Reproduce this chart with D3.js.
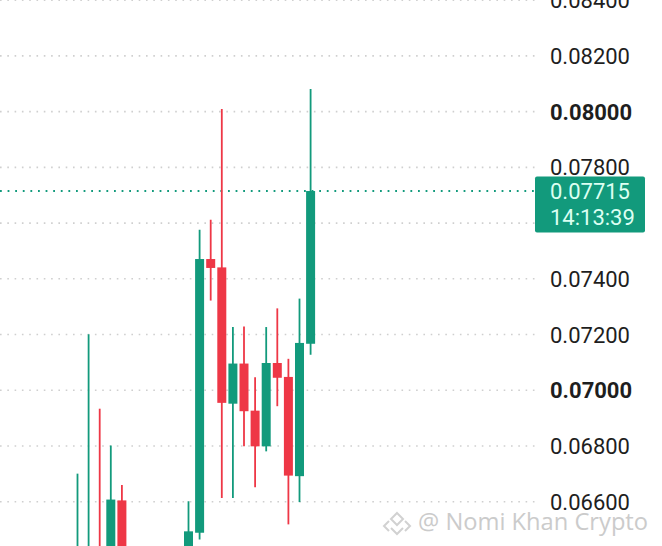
<!DOCTYPE html>
<html>
<head>
<meta charset="utf-8">
<script src="https://cdn.jsdelivr.net/npm/d3@7"></script>
<style>
  html, body { margin: 0; padding: 0; background: #fff; overflow: hidden; }
  svg { display: block; }
</style>
</head>
<body>
<div id="chart"></div>
<script>
// candle slots (bar index from the left edge), OHLC
const slot  = [0, 1, 2, 3, 4, 10, 11, 12, 13, 14, 15, 16, 17, 18, 19, 20, 21];
const open  = [0.0636, 0.0637, 0.0643, 0.0640, 0.06605, 0.0643, 0.06489, 0.07471, 0.07441, 0.06952, 0.07096, 0.06927, 0.06799, 0.07098, 0.07048, 0.06692, 0.07167];
const high  = [0.06701, 0.07201, 0.06934, 0.06802, 0.06660, 0.06602, 0.07576, 0.07612, 0.08009, 0.07227, 0.07229, 0.07047, 0.07227, 0.07294, 0.07113, 0.07329, 0.08081];
const low   = [0.0630, 0.0632, 0.0630, 0.0636, 0.0634, 0.0640, 0.06465, 0.07322, 0.06614, 0.06614, 0.06799, 0.06652, 0.06781, 0.06943, 0.06519, 0.06599, 0.07128];
const close = [0.0642, 0.0643, 0.0636, 0.06608, 0.0639, 0.06494, 0.07471, 0.07439, 0.06955, 0.07096, 0.06925, 0.06799, 0.07098, 0.07045, 0.06694, 0.0717, 0.07715];

const yTicks = [0.066, 0.068, 0.070, 0.072, 0.074, 0.076, 0.078, 0.080, 0.082, 0.084];
const boldTicks = [0.070, 0.080];
const lastPrice = 0.07715;
const lastTime = "14:13:39";
const watermark = "@ Nomi Khan Crypto";

const width = 662, height = 546;
const green = "#129a7c", red = "#ee3746";

const svg = d3.select("#chart").append("svg")
  .attr("width", width)
  .attr("height", height);

const x = d3.scaleLinear().domain([0, 21]).range([77.5, 310.6]);
const y = d3.scaleLinear().domain([0.066, 0.084]).range([501.8, 0.1]);

// dotted grid
svg.append("g")
  .selectAll("line")
  .data(yTicks)
  .join("line")
  .attr("x1", 0)
  .attr("x2", 536)
  .attr("y1", d => y(d))
  .attr("y2", d => y(d))
  .attr("stroke", "#cfcfcf")
  .attr("stroke-width", 1.6)
  .attr("stroke-dasharray", "1.6,5.7");

// last price line
svg.append("line")
  .attr("x1", 0)
  .attr("x2", 536)
  .attr("y1", y(lastPrice))
  .attr("y2", y(lastPrice))
  .attr("stroke", green)
  .attr("stroke-width", 1.8)
  .attr("stroke-dasharray", "1.8,5.8");

const candles = slot.map((s, i) => ({
  s, o: open[i], h: high[i], l: low[i], c: close[i]
}));

const g = svg.append("g");

// wicks
g.selectAll("line")
  .data(candles)
  .join("line")
  .attr("x1", d => x(d.s))
  .attr("x2", d => x(d.s))
  .attr("y1", d => y(d.h))
  .attr("y2", d => y(d.l))
  .attr("stroke", d => d.c >= d.o ? green : red)
  .attr("stroke-width", 1.8);

// bodies
const bodyW = 9;
g.selectAll("rect")
  .data(candles)
  .join("rect")
  .attr("x", d => x(d.s) - bodyW / 2)
  .attr("y", d => y(Math.max(d.o, d.c)))
  .attr("width", bodyW)
  .attr("height", d => Math.max(1, Math.abs(y(d.o) - y(d.c))))
  .attr("fill", d => d.c >= d.o ? green : red);

// price axis labels
svg.append("g")
  .selectAll("text")
  .data(yTicks)
  .join("text")
  .attr("x", 550)
  .attr("y", d => y(d) + 8)
  .style("font-family", "Roboto, sans-serif")
  .style("font-size", "22px")
  .style("font-weight", d => boldTicks.includes(d) ? "bold" : "normal")
  .attr("fill", "#1e1e1e")
  .text(d => d3.format(".5f")(d));

// last price tag
const tag = svg.append("g");
tag.append("rect")
  .attr("x", 535)
  .attr("y", y(lastPrice) - 14.5)
  .attr("width", 110)
  .attr("height", 56)
  .attr("rx", 2)
  .attr("fill", green);
tag.append("text")
  .attr("x", 550)
  .attr("y", y(lastPrice) + 7.5)
  .style("font-family", "Roboto, sans-serif")
  .style("font-size", "22px")
  .attr("fill", "#dcfff2")
  .text(d3.format(".5f")(lastPrice));
tag.append("text")
  .attr("x", 550)
  .attr("y", y(lastPrice) + 34)
  .style("font-family", "Roboto, sans-serif")
  .style("font-size", "22px")
  .attr("fill", "#dcfff2")
  .text(lastTime);

// watermark
const wm = svg.append("g").attr("opacity", 0.9);
const logo = wm.append("g").attr("transform", "translate(397,523)")
  .attr("fill", "none")
  .attr("stroke", "#cdcdcd")
  .attr("stroke-width", 2);
logo.append("path").attr("d", "M0,-10 L6,-4 L0,2 L-6,-4 Z");
logo.append("path").attr("d", "M-8,-2 L-13,3 L-8,8 M8,-2 L13,3 L8,8");
logo.append("path").attr("d", "M-6,5 L0,11 L6,5");
wm.append("text")
  .attr("x", 418)
  .attr("y", 530)
  .style("font-family", "'Open Sans', sans-serif")
  .style("font-size", "23.7px")
  .attr("fill", "#c6c6c6")
  .text(watermark);
</script>
</body>
</html>
